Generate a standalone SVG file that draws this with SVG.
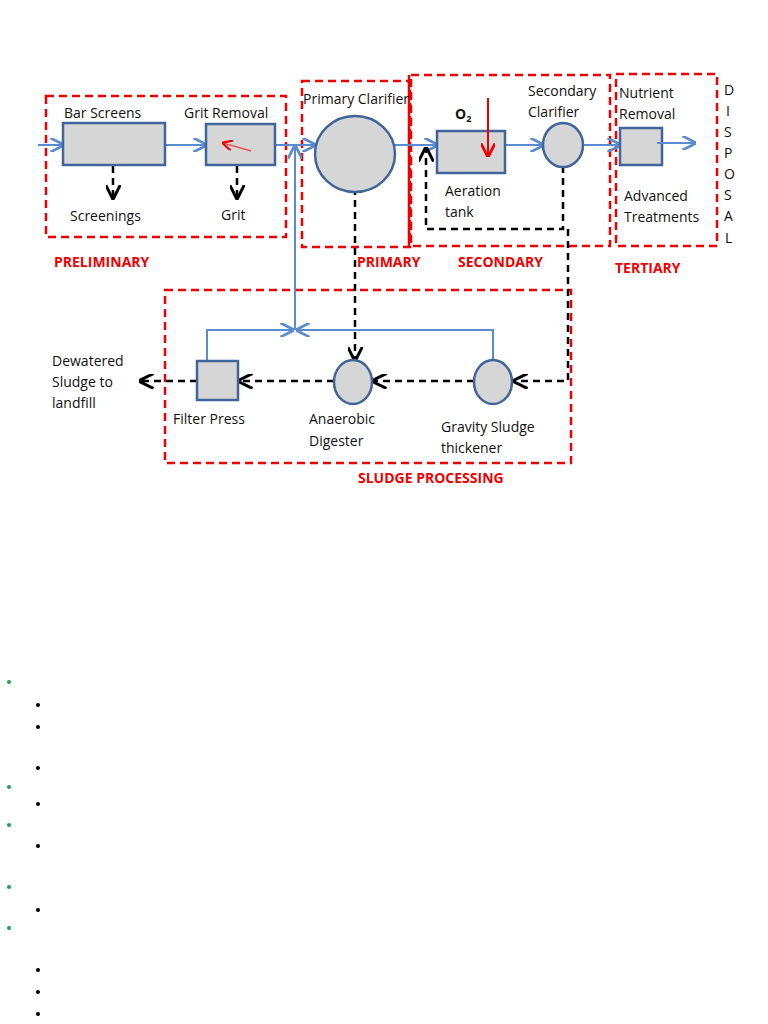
<svg xmlns="http://www.w3.org/2000/svg" width="768" height="1024" viewBox="0 0 768 1024">
<style>
text{font-family:"Open Sans","Liberation Sans",sans-serif;font-size:14px;fill:#111}
.lab{fill:#e00;font-weight:bold;font-size:14px}
.zone{fill:none;stroke:#e00;stroke-width:2.5;stroke-dasharray:8,5}
.node{fill:#d6d6d6;stroke:#41659a;stroke-width:2.5}
.flow{fill:none;stroke:#5b8bd0;stroke-width:2}
.sl{fill:none;stroke:#000;stroke-width:2.5;stroke-dasharray:7,5}
</style>
<defs>
<marker id="ab" viewBox="0 0 10 10" refX="9" refY="5" markerWidth="7" markerHeight="7" orient="auto"><path d="M0,0L10,5L0,10" fill="none" stroke="#5b8bd0" stroke-width="2"/></marker>
<marker id="ak" viewBox="0 0 10 10" refX="9" refY="5" markerWidth="6" markerHeight="6" orient="auto"><path d="M0,0L10,5L0,10" fill="none" stroke="#000" stroke-width="2"/></marker>
<marker id="ar" viewBox="0 0 10 10" refX="9" refY="5" markerWidth="7" markerHeight="7" orient="auto"><path d="M0,0L10,5L0,10" fill="none" stroke="#e00" stroke-width="2"/></marker>
</defs>
<rect width="768" height="1024" fill="#fff"/>
<g id="zones">
<rect class="zone" x="46" y="96" width="240" height="141"/>
<rect class="zone" x="302" y="81" width="108" height="166"/>
<line x1="409" y1="75" x2="409" y2="246" stroke="#e00" stroke-width="2.5"/>
<rect class="zone" x="411" y="75" width="199" height="171"/>
<rect class="zone" x="616" y="74" width="101" height="172"/>
<rect class="zone" x="165" y="290" width="406" height="173"/>
<text class="lab" x="54" y="267">PRELIMINARY</text>
<text class="lab" x="357" y="267">PRIMARY</text>
<text class="lab" x="458" y="267">SECONDARY</text>
<text class="lab" x="615" y="273">TERTIARY</text>
<text class="lab" x="358" y="483">SLUDGE PROCESSING</text>
</g>
<g id="connectors">
<line class="flow" x1="38" y1="145" x2="63" y2="145" marker-end="url(#ab)"/>
<line class="flow" x1="165" y1="145" x2="206" y2="145" marker-end="url(#ab)"/>
<line class="flow" x1="275" y1="145" x2="315" y2="145" marker-end="url(#ab)"/>
<line class="flow" x1="384" y1="145" x2="437" y2="145" marker-end="url(#ab)"/>
<line class="flow" x1="505" y1="145" x2="543" y2="145" marker-end="url(#ab)"/>
<line class="flow" x1="583" y1="145" x2="620" y2="145" marker-end="url(#ab)"/>
<line class="flow" x1="695" y1="143" x2="695" y2="143"/>
<line class="flow" x1="295" y1="330" x2="295" y2="146" marker-end="url(#ab)"/>
<polyline class="flow" points="207,361 207,330 293,330" marker-end="url(#ab)"/>
<polyline class="flow" points="493,361 493,330 297,330" marker-end="url(#ab)"/>
<line class="sl" x1="113" y1="166" x2="113" y2="198" marker-end="url(#ak)"/>
<line class="sl" x1="237" y1="166" x2="237" y2="198" marker-end="url(#ak)"/>
<line class="sl" x1="355" y1="176" x2="355" y2="360" marker-end="url(#ak)"/>
<polyline class="sl" points="563,166 563,229 426,229 426,148" marker-end="url(#ak)"/>
<polyline class="sl" points="568,229 568,381 514,381" marker-end="url(#ak)"/>
<line class="sl" x1="474" y1="381" x2="373" y2="381" marker-end="url(#ak)"/>
<line class="sl" x1="334" y1="381" x2="239" y2="381" marker-end="url(#ak)"/>
<line class="sl" x1="197" y1="381" x2="140" y2="381" marker-end="url(#ak)"/>
</g>
<g id="bar-screens"><rect class="node" x="63" y="123" width="102" height="42"/><text x="64" y="118">Bar Screens</text><text x="70" y="221">Screenings</text></g>
<g id="grit-removal"><rect class="node" x="206" y="124" width="69" height="41"/><line x1="251" y1="151" x2="223" y2="143" stroke="#e55" stroke-width="1.5" marker-end="url(#ar)"/><text x="184" y="118">Grit Removal</text><text x="221" y="220">Grit</text></g>
<g id="primary-clarifier"><ellipse class="node" cx="355" cy="154" rx="40" ry="38"/><text x="303" y="104">Primary Clarifier</text></g>
<g id="aeration-tank"><rect class="node" x="437" y="131" width="68" height="42"/><line x1="488" y1="98" x2="488" y2="156" stroke="#e00" stroke-width="2" marker-end="url(#ar)"/><text x="455" y="119" font-weight="bold">O<tspan font-size="9" dy="3">2</tspan></text><text x="445" y="196">Aeration</text><text x="445" y="217">tank</text></g>
<g id="secondary-clarifier"><ellipse class="node" cx="563" cy="145" rx="20" ry="22"/><text x="528" y="96">Secondary</text><text x="528" y="117">Clarifier</text></g>
<g id="nutrient-removal"><rect class="node" x="620" y="128" width="42" height="37"/><line class="flow" x1="657" y1="143" x2="695" y2="143" marker-end="url(#ab)"/><text x="619" y="98">Nutrient</text><text x="619" y="119">Removal</text><text x="624" y="201">Advanced</text><text x="624" y="222">Treatments</text></g>
<g id="disposal"><text x="724" y="95">D</text><text x="726" y="116">I</text><text x="724" y="137">S</text><text x="724" y="158">P</text><text x="724" y="179">O</text><text x="724" y="200">S</text><text x="724" y="221">A</text><text x="725" y="243">L</text></g>
<g id="filter-press"><rect class="node" x="197" y="361" width="41" height="39"/><text x="173" y="424">Filter Press</text></g>
<g id="anaerobic-digester"><ellipse class="node" cx="353" cy="382" rx="19" ry="22"/><text x="309" y="424">Anaerobic</text><text x="309" y="446">Digester</text></g>
<g id="thickener"><ellipse class="node" cx="493" cy="382" rx="19" ry="22"/><text x="441" y="432">Gravity Sludge</text><text x="441" y="453">thickener</text></g>
<g id="dewatered"><text x="52" y="366">Dewatered</text><text x="52" y="387">Sludge to</text><text x="52" y="408">landfill</text></g>
<g id="bullets" fill="#000">
<g fill="#1aa34a"><circle cx="9" cy="682" r="2"/><circle cx="9" cy="787" r="2"/><circle cx="9" cy="825" r="2"/><circle cx="9" cy="887" r="2"/><circle cx="9" cy="928" r="2"/></g>
<circle cx="38" cy="705" r="2"/><circle cx="38" cy="727" r="2"/><circle cx="38" cy="768" r="2"/><circle cx="38" cy="804" r="2"/><circle cx="38" cy="846" r="2"/><circle cx="38" cy="910" r="2"/><circle cx="38" cy="970" r="2"/><circle cx="38" cy="992" r="2"/><circle cx="38" cy="1014" r="2"/>
</g>
</svg>
